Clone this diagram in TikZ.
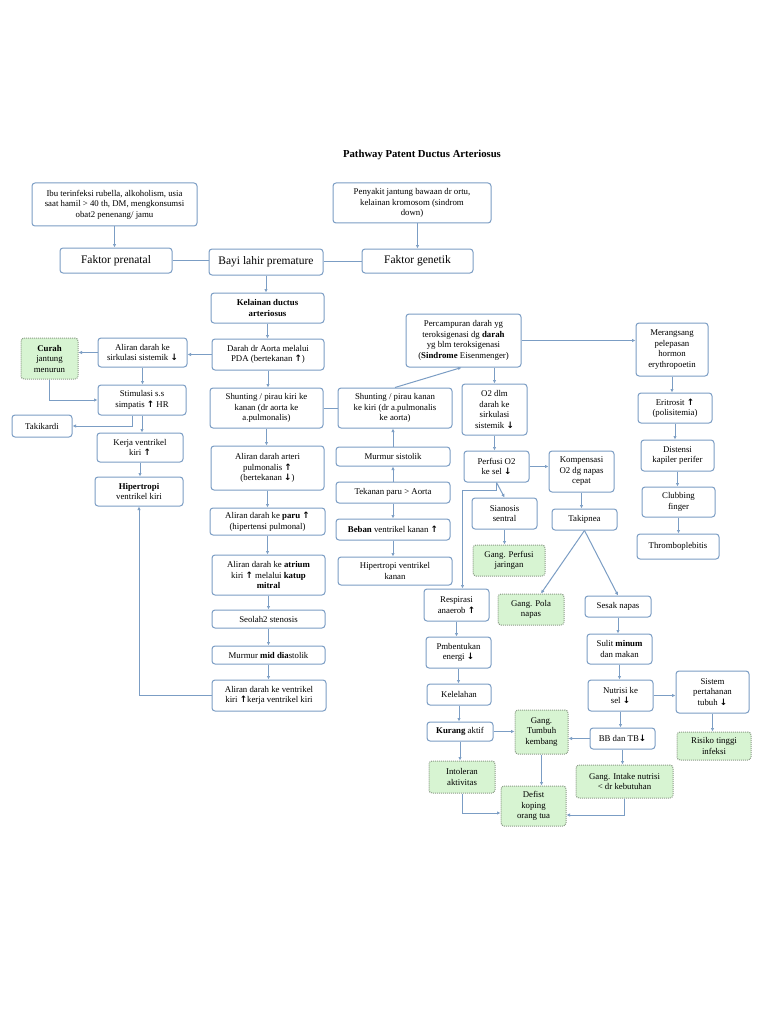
\documentclass[tikz,border=0pt]{standalone}
\usepackage{fontspec}
\setmainfont{Liberation Serif}
\newfontfamily\arrowfont{DejaVu Sans}
\usetikzlibrary{arrows.meta,calc}
\newcommand\UpA{{\arrowfont\bfseries ↑}}
\newcommand\DnA{{\arrowfont\bfseries ↓}}
\definecolor{edge}{HTML}{7B9DC4}
\definecolor{gfill}{HTML}{D7F4D2}
\definecolor{gedge}{HTML}{8C9C88}
\tikzset{
 box/.style={draw=edge, line width=1pt, rounded corners=3pt, fill=white, align=center, inner sep=1pt, font=\fontsize{8.8}{10.5}\selectfont},
 gbox/.style={box, draw=gedge, densely dotted, fill=gfill},
 big/.style={box, font=\fontsize{11.5}{13}\selectfont},
 arr/.style={draw=edge, line width=1pt, -{Latex[length=3.5pt,width=3.5pt]}},
 ln/.style={draw=edge, line width=1pt},
}
\newcommand\bx[7][box]{%
 \pgfmathsetmacro\bxw{#5-#3}\pgfmathsetmacro\bxh{#6-#4}%
 \pgfmathsetmacro\bxx{(#3+#5)/2}\pgfmathsetmacro\bxy{(#4+#6)/2}%
 \node[#1,minimum width=\bxw pt,minimum height=\bxh pt] (#2) at (\bxx,\bxy) {#7};}
\begin{document}
\begin{tikzpicture}[x=1pt,y=-1pt]
\useasboundingbox[fill=white] (0,0) rectangle (768,1024);
\node[font=\bfseries\fontsize{10.7}{12}\selectfont] (title) at (422,155) {Pathway Patent Ductus Arteriosus};

\bx{ibu}{32}{183}{197}{226}{Ibu terinfeksi rubella, alkoholism, usia\\saat hamil > 40 th, DM, mengkonsumsi\\obat2 penenang/ jamu}
\bx{penyakit}{333}{183}{491}{223}{Penyakit jantung bawaan dr ortu,\\kelainan kromosom (sindrom\\down)}
\bx[big]{fprenatal}{60}{248}{172}{273}{Faktor prenatal}
\bx[big]{bayi}{209}{249}{323}{275}{Bayi lahir premature}
\bx[big]{fgenetik}{362}{249}{473}{273}{Faktor genetik}
\bx{kelainan}{211}{293}{324}{323}{\textbf{Kelainan ductus}\\\textbf{arteriosus}}
\bx{darah}{212}{339}{324}{370}{Darah dr Aorta melalui\\PDA (bertekanan \UpA)}
\bx{aliransis}{98}{338}{187}{367}{Aliran darah ke\\sirkulasi sistemik \DnA}
\bx[gbox]{curah}{21}{338}{78}{379}{\textbf{Curah}\\jantung\\menurun}
\bx{stimulasi}{98}{385}{186}{415}{Stimulasi s.s\\simpatis \UpA\ HR}
\bx{takikardi}{12}{415}{72}{437}{Takikardi}
\bx{kerjakiri}{97}{433}{183}{462}{Kerja ventrikel\\kiri \UpA}
\bx{hiperkiri}{95}{477}{183}{506}{\textbf{Hipertropi}\\ventrikel kiri}
\bx{shuntkiri}{210}{388}{323}{428}{Shunting / pirau kiri ke\\kanan (dr aorta ke\\a.pulmonalis)}
\bx{alirpul}{211}{446}{324}{490}{Aliran darah arteri\\pulmonalis \UpA\\(bertekanan \DnA)}
\bx{alirparu}{210}{508}{325}{535}{Aliran darah ke \textbf{paru} \UpA\\(hipertensi pulmonal)}
\bx{atrium}{212}{555}{325}{595}{Aliran darah ke \textbf{atrium}\\kiri \UpA\ melalui \textbf{katup}\\\textbf{mitral}}
\bx{seolah}{212}{610}{325}{628}{Seolah2 stenosis}
\bx{murmurmid}{212}{646}{325}{664}{Murmur \textbf{mid dia}stolik}
\bx{alirvent}{212}{680}{326}{711}{Aliran darah ke ventrikel\\kiri \UpA kerja ventrikel kiri}
\bx{percamp}{406}{314}{521}{367}{Percampuran darah yg\\teroksigenasi dg \textbf{darah}\\yg blm teroksigenasi\\(\textbf{Sindrome} Eisenmenger)}
\bx{merang}{636}{323}{708}{376}{Merangsang\\pelepasan\\hormon\\erythropoetin}
\bx{eritro}{638}{393}{712}{423}{Eritrosit \UpA\\(polisitemia)}
\bx{distensi}{641}{440}{714}{471}{Distensi\\kapiler perifer}
\bx{clubbing}{642}{487}{715}{517}{Clubbing\\finger}
\bx{thrombo}{637}{534}{719}{559}{Thromboplebitis}
\bx{shuntkanan}{338}{388}{452}{428}{Shunting / pirau kanan\\ke kiri (dr a.pulmonalis\\ke aorta)}
\bx{murmursis}{336}{447}{450}{466}{Murmur sistolik}
\bx{tekanan}{336}{482}{450}{503}{Tekanan paru > Aorta}
\bx{beban}{336}{519}{450}{540}{\textbf{Beban} ventrikel kanan \UpA}
\bx{hiperkanan}{338}{557}{452}{585}{Hipertropi ventrikel\\kanan}
\bx{o2}{462}{384}{527}{435}{O2 dlm\\darah ke\\sirkulasi\\sistemik \DnA}
\bx{perfusi}{464}{451}{529}{482}{Perfusi O2\\ke sel \DnA}
\bx{kompen}{549}{451}{614}{492}{Kompensasi\\O2 dg napas\\cepat}
\bx{takipnea}{552}{509}{617}{530}{Takipnea}
\bx{sianosis}{472}{498}{537}{529}{Sianosis\\sentral}
\bx[gbox]{gperfusi}{473}{545}{545}{576}{Gang. Perfusi\\jaringan}
\bx{respirasi}{424}{589}{489}{621}{Respirasi\\anaerob \UpA}
\bx[gbox]{gpola}{498}{594}{564}{625}{Gang. Pola\\napas}
\bx{energi}{426}{637}{491}{668}{Pmbentukan\\energi \DnA}
\bx{kelelahan}{427}{684}{491}{705}{Kelelahan}
\bx{kurang}{427}{722}{493}{741}{\textbf{Kurang} aktif}
\bx[gbox]{gtumbuh}{515}{710}{568}{754}{Gang.\\Tumbuh\\kembang}
\bx[gbox]{intoleran}{429}{761}{495}{793}{Intoleran\\aktivitas}
\bx[gbox]{defist}{501}{786}{566}{826}{Defist\\koping\\orang tua}
\bx{sesak}{585}{596}{651}{617}{Sesak napas}
\bx{sulit}{587}{634}{652}{664}{Sulit \textbf{minum}\\dan makan}
\bx{nutrisi}{588}{680}{653}{711}{Nutrisi ke\\sel \DnA}
\bx{sistem}{676}{671}{749}{713}{Sistem\\pertahanan\\tubuh \DnA}
\bx[gbox]{risiko}{677}{732}{751}{760}{Risiko tinggi\\infeksi}
\bx{bbtb}{590}{728}{655}{749}{BB dan TB\DnA}
\bx[gbox]{gintake}{576}{765}{673}{798}{Gang. Intake nutrisi\\< dr kebutuhan}

% connectors
\draw[arr] (ibu.south) -- (ibu.south |- fprenatal.north);
\draw[arr] (fgenetik.north |- penyakit.south) -- (fgenetik.north);
\draw[ln] (fprenatal.east) -- (fprenatal.east -| bayi.west);
\draw[ln] (fgenetik.west) -- (fgenetik.west -| bayi.east);
\draw[arr] (bayi.south) -- (bayi.south |- kelainan.north);
\draw[arr] (kelainan.south) -- (kelainan.south |- darah.north);
\draw[arr] (darah.west) -- (darah.west -| aliransis.east);
\draw[arr] (aliransis.west) -- (aliransis.west -| curah.east);
\draw[arr] (aliransis.south) -- (aliransis.south |- stimulasi.north);
\draw[arr] (curah.south) |- (stimulasi.west);
\draw[arr] ([xshift=-10pt]stimulasi.south) |- (takikardi.east);
\draw[arr] (stimulasi.south) -- (stimulasi.south |- kerjakiri.north);
\draw[arr] (kerjakiri.south) -- (kerjakiri.south |- hiperkiri.north);
\draw[arr] (alirvent.west) -| (hiperkiri.south);
\draw[arr] (darah.south) -- (darah.south |- shuntkiri.north);
\draw[arr] (shuntkiri.south) -- (shuntkiri.south |- alirpul.north);
\draw[arr] (alirpul.south) -- (alirpul.south |- alirparu.north);
\draw[arr] (alirparu.south) -- (alirparu.south |- atrium.north);
\draw[arr] (atrium.south) -- (atrium.south |- seolah.north);
\draw[arr] (seolah.south) -- (seolah.south |- murmurmid.north);
\draw[arr] (murmurmid.south) -- (murmurmid.south |- alirvent.north);
\draw[ln] (shuntkiri.east) -- (shuntkiri.east -| shuntkanan.west);
\draw[arr] (shuntkanan.north) -- ([xshift=-2pt]percamp.south);
\draw[arr] (murmursis.north) -- (murmursis.north |- shuntkanan.south);
\draw[arr] (tekanan.north) -- (tekanan.north |- murmursis.south);
\draw[arr] (tekanan.south) -- (tekanan.south |- beban.north);
\draw[arr] (beban.south) -- (beban.south |- hiperkanan.north);
\draw[arr] (percamp.east) -- (percamp.east -| merang.west);
\draw[arr] (merang.south) -- (merang.south |- eritro.north);
\draw[arr] (eritro.south) -- (eritro.south |- distensi.north);
\draw[arr] (distensi.south) -- (distensi.south |- clubbing.north);
\draw[arr] (clubbing.south) -- (clubbing.south |- thrombo.north);
\draw[arr] (o2.north |- percamp.south) -- (o2.north);
\draw[arr] (o2.south) -- (o2.south |- perfusi.north);
\draw[arr] (perfusi.east) -- (perfusi.east -| kompen.west);
\draw[arr] (perfusi.south) -- (sianosis.north);
\draw[arr] (perfusi.south) -- ++(0,8) -| ([xshift=6pt]respirasi.north);
\draw[arr] (sianosis.south) -- (sianosis.south |- gperfusi.north);
\draw[arr] (kompen.south) -- (kompen.south |- takipnea.north);
\draw[arr] (takipnea.south) -- ([xshift=10pt]gpola.north);
\draw[arr] (takipnea.south) -- (sesak.north);
\draw[arr] (respirasi.south) -- (respirasi.south |- energi.north);
\draw[arr] (energi.south) -- (energi.south |- kelelahan.north);
\draw[arr] (kelelahan.south) -- (kelelahan.south |- kurang.north);
\draw[arr] (kurang.east) -- (kurang.east -| gtumbuh.west);
\draw[arr] (kurang.south) -- (kurang.south |- intoleran.north);
\draw[arr] (intoleran.south) |- ([yshift=-7pt]defist.west);
\draw[arr] (gtumbuh.south) -- (gtumbuh.south |- defist.north);
\draw[arr] (gintake.south) |- ([yshift=-9pt]defist.east);
\draw[arr] (bbtb.west) -- (bbtb.west -| gtumbuh.east);
\draw[arr] (bbtb.south) -- (bbtb.south |- gintake.north);
\draw[arr] (sesak.south) -- (sesak.south |- sulit.north);
\draw[arr] (sulit.south) -- (sulit.south |- nutrisi.north);
\draw[arr] (nutrisi.south) -- (nutrisi.south |- bbtb.north);
\draw[arr] (nutrisi.east) -- (nutrisi.east -| sistem.west);
\draw[arr] (sistem.south) -- (sistem.south |- risiko.north);
\end{tikzpicture}
\end{document}
